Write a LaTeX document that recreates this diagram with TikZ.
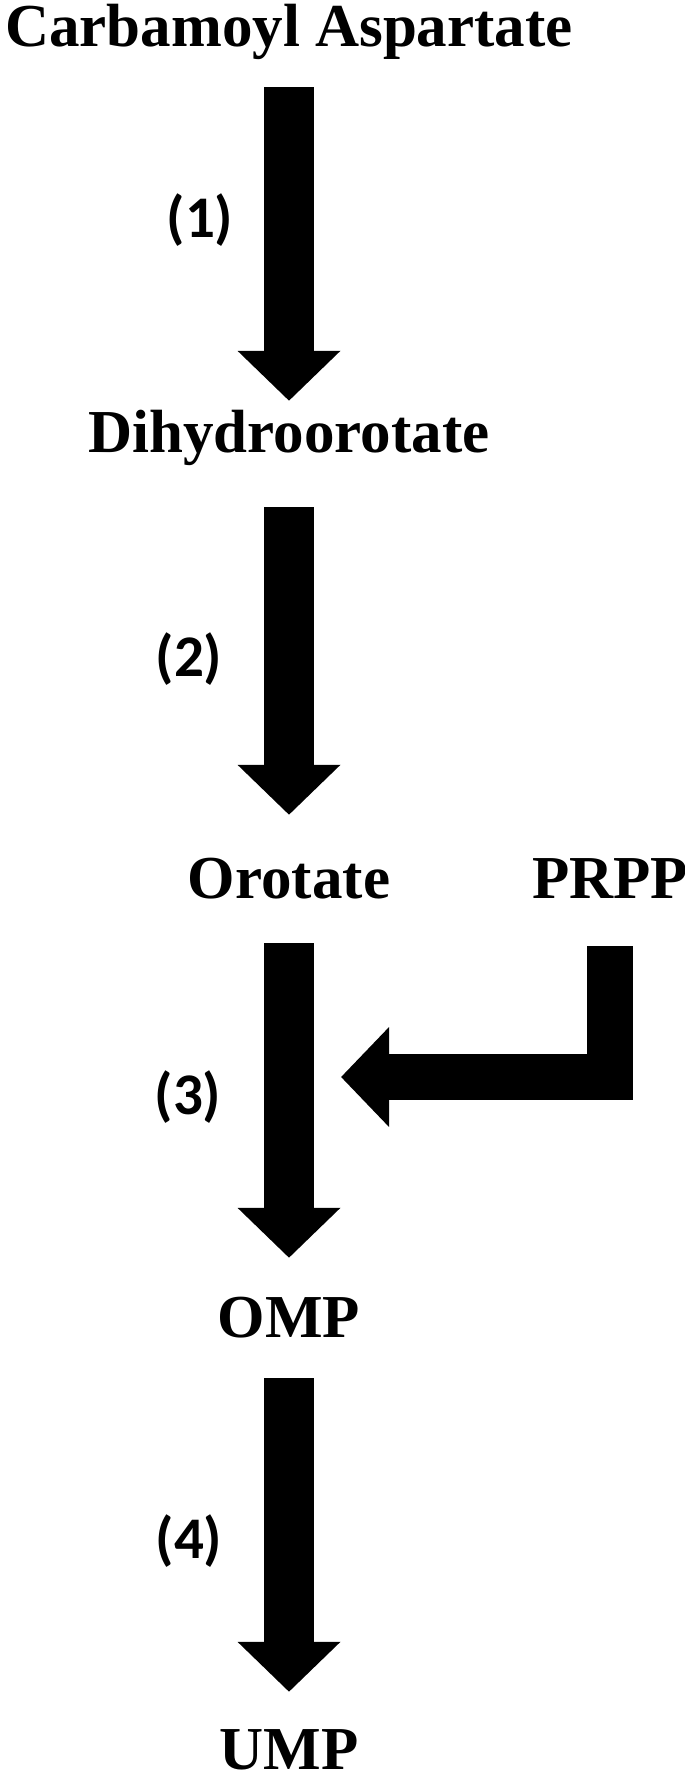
\documentclass[tikz,border=0pt]{standalone}
\usepackage{fontspec}
\setmainfont{Liberation Serif}
\newfontfamily\numfont{Carlito}
\usetikzlibrary{arrows.meta,positioning}

\begin{document}
\begin{tikzpicture}[x=1pt, y=-1pt]
  \tikzstyle{chem} = [inner sep=0pt, anchor=base, text height=42pt, text depth=14pt, font=\fontsize{61}{61}\selectfont\bfseries]
  \tikzstyle{stepnum} = [inner sep=0pt, font=\fontsize{59}{59}\selectfont\numfont\bfseries]
  \tikzstyle{bigarrow} = [line width=50pt, -{Triangle[width=100pt,length=50pt]}]
  \tikzstyle{sidearrow} = [line width=46pt, line join=miter, -{Triangle[width=97pt,length=48pt]}]
  \useasboundingbox (0,0) rectangle (685,1785);
  % metabolites
  \node [chem] (carb) at (289,47) {Carbamoyl Aspartate};
  \node [chem] (dihydro) at (289,452) {Dihydroorotate};
  \node [chem] (orot) at (289,898) {Orotate};
  \node [chem] (prpp) at (610,898) {PRPP};
  \node [chem] (omp) at (289,1337) {OMP};
  \node [chem, text depth=2pt] (ump) at (289,1769) {UMP};
  % steps
  \node [stepnum] (s1) at (200,220) {(1)};
  \node [stepnum] (s2) at (189,659) {(2)};
  \node [stepnum] (s3) at (188,1097) {(3)};
  \node [stepnum] (s4) at (189,1541) {(4)};
  \coordinate (prppin) at (341,1077);
  \draw [bigarrow, shorten <=26pt, shorten >=9pt] (carb.south) -- (dihydro.north);
  \draw [bigarrow, shorten <=41pt, shorten >=41pt] (dihydro.south) -- (orot.north);
  \draw [bigarrow, shorten <=31pt, shorten >=37pt] (orot.south) -- (omp.north);
  \draw [bigarrow, shorten <=27pt, shorten >=35pt] (omp.south) -- (ump.north);
  \draw [sidearrow, shorten <=34pt] (prpp.south) |- (prppin);
\end{tikzpicture}
\end{document}
